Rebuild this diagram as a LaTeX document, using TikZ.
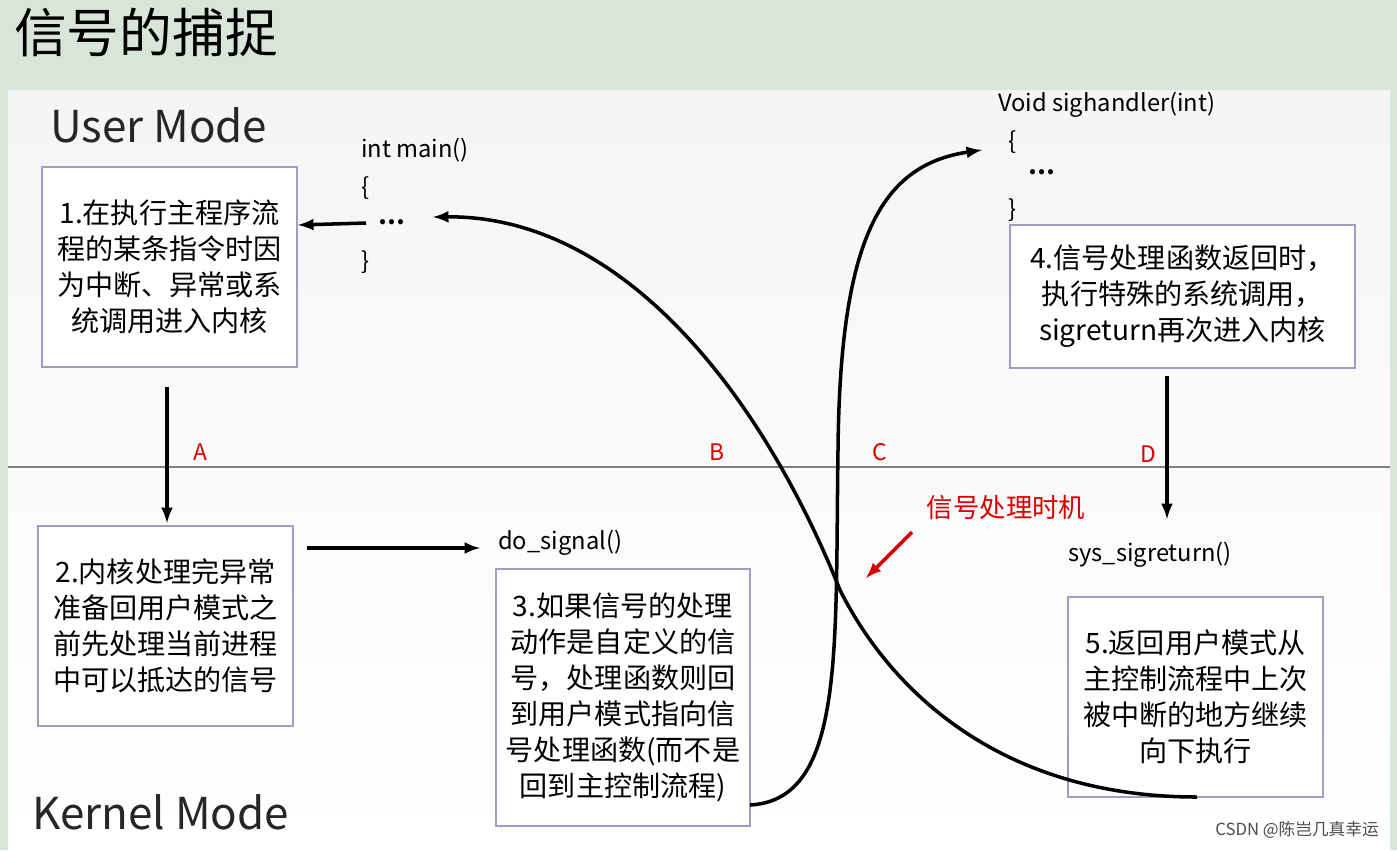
\documentclass[tikz,border=0pt]{standalone}
\usepackage{fontspec}
\setmainfont{Noto Sans CJK SC}
\begin{document}
\begin{tikzpicture}[x=0.02cm,y=-0.02cm,
  box/.style={draw=blue!25!gray!60,line width=0.8pt,fill=white,minimum width=#1*0.02cm,inner sep=2pt,align=center,font=\fontsize{16}{20.5}\selectfont},
  code/.style={anchor=west,font=\fontsize{13.5}{16}\selectfont},
  lab/.style={text=red!85!black,font=\fontsize{13}{16}\selectfont},
  arr/.style={-latex,line width=2pt},
  mode/.style={anchor=west,font=\fontsize{25}{30}\selectfont,text=black!85}]
\useasboundingbox (0,0) rectangle (1397,850);
\fill[green!20!gray!25!white] (0,0) rectangle (1397,850);
\shade[top color=white!92!gray,bottom color=white] (8,90) rectangle (1390,850);
\node[anchor=west,font=\fontsize{30}{36}\selectfont] (title) at (8,32) {信号的捕捉};
\node[mode] (um) at (44,125) {User Mode};
\node[mode] (km) at (26,812) {Kernel Mode};
\draw[gray,line width=1.2pt] (8,467) coordinate (l1) -- (1390,467) coordinate (l2);
% boxes
\node[box=255,minimum height=200*0.02cm] (b1) at (169.5,267) {1.在执行主程序流\\程的某条指令时因\\为中断、异常或系\\统调用进入内核};
\node[box=255,minimum height=200*0.02cm] (b2) at (165.5,626) {2.内核处理完异常\\准备回用户模式之\\前先处理当前进程\\中可以抵达的信号};
\node[box=254,minimum height=257*0.02cm] (b3) at (623,697.5) {3.如果信号的处理\\动作是自定义的信\\号，处理函数则回\\到用户模式指向信\\号处理函数(而不是\\回到主控制流程)};
\node[box=345,minimum height=143*0.02cm] (b4) at (1182.5,296.5) {4.信号处理函数返回时，\\执行特殊的系统调用，\\sigreturn再次进入内核};
\node[box=255,minimum height=200*0.02cm] (b5) at (1195.5,697) {5.返回用户模式从\\主控制流程中上次\\被中断的地方继续\\向下执行};
% code
\node[code] (m1) at (355,150) {int main()};
\node[code] (m2) at (355,188) {\{};
\node[code] (m3) at (372,222) {\textbf{…}};
\node[code] (m4) at (355,262) {\}};
\node[code] (s1) at (992,105) {Void sighandler(int)};
\node[code] (s2) at (1002,142) {\{};
\node[code] (s3) at (1022,172) {\textbf{…}};
\node[code] (s4) at (1002,210) {\}};
\node[code] (ds) at (492,543) {do\_signal()};
\node[code] (ss) at (1062,555) {sys\_sigreturn()};
% labels
\node[lab] (A) at (200,452) {A};
\node[lab] (B) at (717,452) {B};
\node[lab] (C) at (880,452) {C};
\node[lab] (D) at (1148,454) {D};
\node[lab,font=\fontsize{15}{18}\selectfont] (tm) at (1006,508) {信号处理时机};
\coordinate (tmA) at (912,532);
\coordinate (tmB) at (866,578);
\draw[-latex,red!85!black,line width=2pt] (tmA) -- (tmB);
% arrows
\coordinate (a1s) at (366,223); \coordinate (a1e) at (298,225);
\draw[arr] (a1s) -- (a1e);
\coordinate (a2s) at (167,387); \coordinate (a2e) at (167,523);
\draw[arr] (a2s) -- (a2e);
\coordinate (a3s) at (307,548); \coordinate (a3e) at (480,548);
\draw[arr] (a3s) -- (a3e);
\coordinate (a4s) at (1167,376); \coordinate (a4e) at (1167,519);
\draw[arr] (a4s) -- (a4e);
% curves
\coordinate (cBs) at (1197,797); \coordinate (cBm) at (840,590); \coordinate (cBe) at (433,217);
\draw[arr] (cBs) .. controls (1000,797) and (890,690) .. (cBm) .. controls (760,390) and (620,215) .. (cBe);
\coordinate (cCs) at (750,805); \coordinate (cCm) at (838,450); \coordinate (cCe) at (982,150);
\draw[arr] (cCs) .. controls (845,800) and (835,650) .. (cCm) .. controls (840,240) and (880,165) .. (cCe);
\node[anchor=east,font=\fontsize{9.5}{12}\selectfont,text=black!70] (wm) at (1385,830) {CSDN @陈岂几真幸运};
\end{tikzpicture}
\end{document}
